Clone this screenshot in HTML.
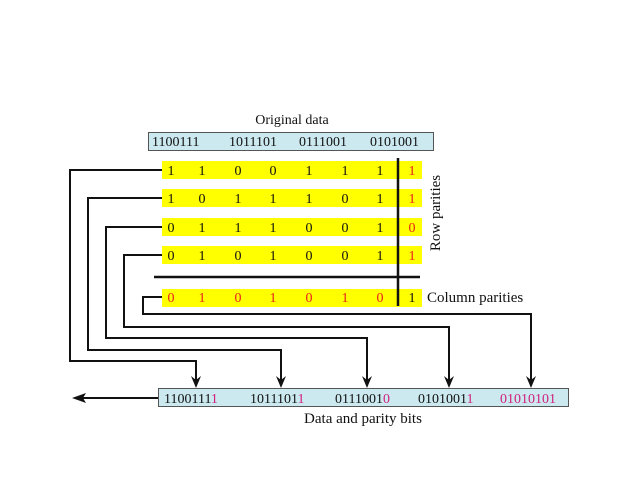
<!DOCTYPE html>
<html><head><meta charset="utf-8"><style>
html,body{margin:0;padding:0;background:#fff;}
svg{display:block;}
text{font-family:"Liberation Serif",serif;font-size:14px;fill:#111;}
.r{fill:#e8231a;}
.m{fill:#d1207d;}
</style></head><body>
<svg width="638" height="478" viewBox="0 0 638 478" xmlns="http://www.w3.org/2000/svg">
<text x="292" y="124" text-anchor="middle" style="font-size:14px">Original data</text>
<rect x="148.5" y="132.5" width="285" height="18" fill="#cce9f0" stroke="#555"/>
<text x="152" y="146">1100111</text><text x="229" y="146">1011101</text><text x="299" y="146">0111001</text><text x="370" y="146">0101001</text>
<g fill="#ffff00">
<rect x="162" y="161" width="260" height="18"/><rect x="162" y="189" width="260" height="18"/>
<rect x="162" y="218" width="260" height="18"/><rect x="162" y="246" width="260" height="18"/>
<rect x="162" y="289" width="260" height="18"/></g>
<g text-anchor="middle">
<text x="171" y="175">1</text><text x="202" y="175">1</text><text x="238" y="175">0</text><text x="273" y="175">0</text><text x="309" y="175">1</text><text x="345" y="175">1</text><text x="380" y="175">1</text><text x="412" y="175" class="r">1</text>
<text x="171" y="203">1</text><text x="202" y="203">0</text><text x="238" y="203">1</text><text x="273" y="203">1</text><text x="309" y="203">1</text><text x="345" y="203">0</text><text x="380" y="203">1</text><text x="412" y="203" class="r">1</text>
<text x="171" y="232">0</text><text x="202" y="232">1</text><text x="238" y="232">1</text><text x="273" y="232">1</text><text x="309" y="232">0</text><text x="345" y="232">0</text><text x="380" y="232">1</text><text x="412" y="232" class="r">0</text>
<text x="171" y="260">0</text><text x="202" y="260">1</text><text x="238" y="260">0</text><text x="273" y="260">1</text><text x="309" y="260">0</text><text x="345" y="260">0</text><text x="380" y="260">1</text><text x="412" y="260" class="r">1</text>
<text x="171" y="302" class="r">0</text><text x="202" y="302" class="r">1</text><text x="238" y="302" class="r">0</text><text x="273" y="302" class="r">1</text><text x="309" y="302" class="r">0</text><text x="345" y="302" class="r">1</text><text x="380" y="302" class="r">0</text><text x="412" y="302">1</text>
</g>
<line x1="154" y1="277" x2="420" y2="277" stroke="#111" stroke-width="2.5"/>
<line x1="398" y1="158" x2="398" y2="306" stroke="#111" stroke-width="2.5"/>
<text x="0" y="0" transform="translate(440,213) rotate(-90)" text-anchor="middle" style="font-size:15px">Row parities</text>
<text x="427" y="302" style="font-size:15px">Column parities</text>
<g fill="none" stroke="#111" stroke-width="2">
<polyline points="162,170 70,170 70,361 196,361 196,380"/>
<polyline points="162,198 88,198 88,350 281,350 281,380"/>
<polyline points="162,227 106,227 106,338 367,338 367,380"/>
<polyline points="162,255 124,255 124,327 449,327 449,380"/>
<polyline points="162,297 143,297 143,314 531,314 531,380"/>
<line x1="158" y1="398" x2="80" y2="398"/>
</g>
<g fill="#111">
<path d="M191,376 L196,388 L201,376 L196,380 Z"/>
<path d="M276,376 L281,388 L286,376 L281,380 Z"/>
<path d="M362,376 L367,388 L372,376 L367,380 Z"/>
<path d="M444,376 L449,388 L454,376 L449,380 Z"/>
<path d="M526,376 L531,388 L536,376 L531,380 Z"/>
<path d="M72,398 L86,393 L83,398 L86,403 Z"/>
</g>
<rect x="158.5" y="388.5" width="410" height="18" fill="#cce9f0" stroke="#555"/>
<text x="164" y="403">1100111<tspan class="m">1</tspan></text>
<text x="250" y="403">1011101<tspan class="m">1</tspan></text>
<text x="335" y="403">0111001<tspan class="m">0</tspan></text>
<text x="418" y="403">0101001<tspan class="m">1</tspan></text>
<text x="500" y="403" class="m">01010101</text>
<text x="363" y="423" text-anchor="middle" style="font-size:15px">Data and parity bits</text>
</svg>
</body></html>
